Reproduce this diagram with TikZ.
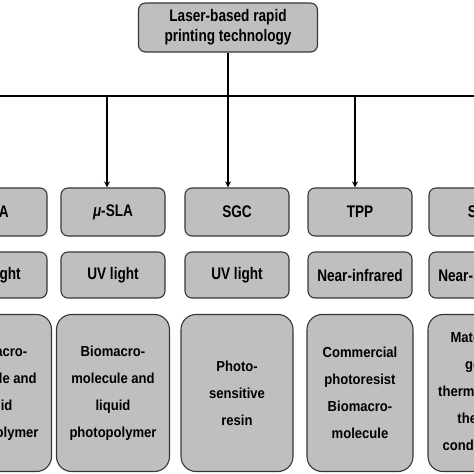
\documentclass[tikz,border=0pt]{standalone}
\usepackage{fontspec}
\setmainfont{Liberation Sans}
\newfontfamily\boxfont[FakeStretch=0.81]{Liberation Sans Bold}
\newfontfamily\greekfont[FakeStretch=0.81]{Liberation Sans Bold Italic}
\newfontfamily\matfont[FakeStretch=0.9]{Liberation Sans Bold}
\usetikzlibrary{arrows.meta,positioning}

\definecolor{boxgray}{RGB}{191,191,191}
\definecolor{edgegray}{RGB}{55,55,55}

\tikzset{
    techbox/.style={draw=edgegray, fill=boxgray, line width=1.1bp, rounded corners=7bp,
        inner sep=0pt, align=center, font=\boxfont\fontsize{16.8bp}{20bp}\selectfont},
    matbox/.style={draw=edgegray, fill=boxgray, line width=1.1bp, rounded corners=15bp,
        inner sep=0pt, align=center, minimum height=157bp,
        font=\matfont\fontsize{14.5bp}{27bp}\selectfont},
    bus/.style={line width=1.4bp, black},
    down/.style={bus, -{Stealth[length=6bp,width=6bp]}}
}

\begin{document}
\begin{tikzpicture}[x=1bp,y=-1bp]
    \useasboundingbox (0,0) rectangle (474,474);
    \clip (0,0) rectangle (474,474);

    \pgfmathsetmacro{\busy}{96}    %height of the distribution line
    \pgfmathsetmacro{\ra}{212}     %row of techniques
    \pgfmathsetmacro{\rb}{275}     %row of light sources
    \pgfmathsetmacro{\rc}{393}     %row of materials

    % Root box
    \node[techbox, minimum width=179bp, minimum height=49bp] (root) at (228,27.5)
        {Laser-based rapid\\printing technology};

    % Distribution line
    \coordinate (busL) at (0,\busy);
    \coordinate (busR) at (474,\busy);
    \draw[bus] (busL) -- (busR);
    \draw[bus] (root.south) -- (root.south |- busL);

    %Loop for the three boxes of every technique
    \foreach \i/\cx/\mw/\tech/\light/\mat in {
        1/-5/113/{SLA}/{UV light}/{Biomacro-\\molecule and\\liquid\\photopolymer},
        2/113/113/{{\greekfont μ}-SLA}/{UV light}/{Biomacro-\\molecule and\\liquid\\photopolymer},
        3/237/112/{SGC}/{UV light}/{Photo-\\sensitive\\resin},
        4/360/106/{TPP}/{Near-infrared}/{Commercial\\photoresist\\Biomacro-\\molecule},
        5/481/106/{SLS}/{Near-infrared}/{Mate-rials\\good\\thermoplastic\\thermal\\conductivity}} {
        \node[techbox, minimum width=104bp, minimum height=48bp] (tech\i) at (\cx,\ra) {\tech};
        \node[techbox, minimum width=104bp, minimum height=46bp] (light\i) at (\cx,\rb) {\light};
        \node[matbox, minimum width=\mw bp] (mat\i) at (\cx,\rc) {\mat};
    }

    %Arrows from the line to the techniques
    \foreach \i/\ax in {2/107,3/228,4/355} {
        \coordinate (drop\i) at (\ax,\busy);
        \draw[down] (drop\i) -- (drop\i |- tech\i.north);
    }
\end{tikzpicture}
\end{document}
